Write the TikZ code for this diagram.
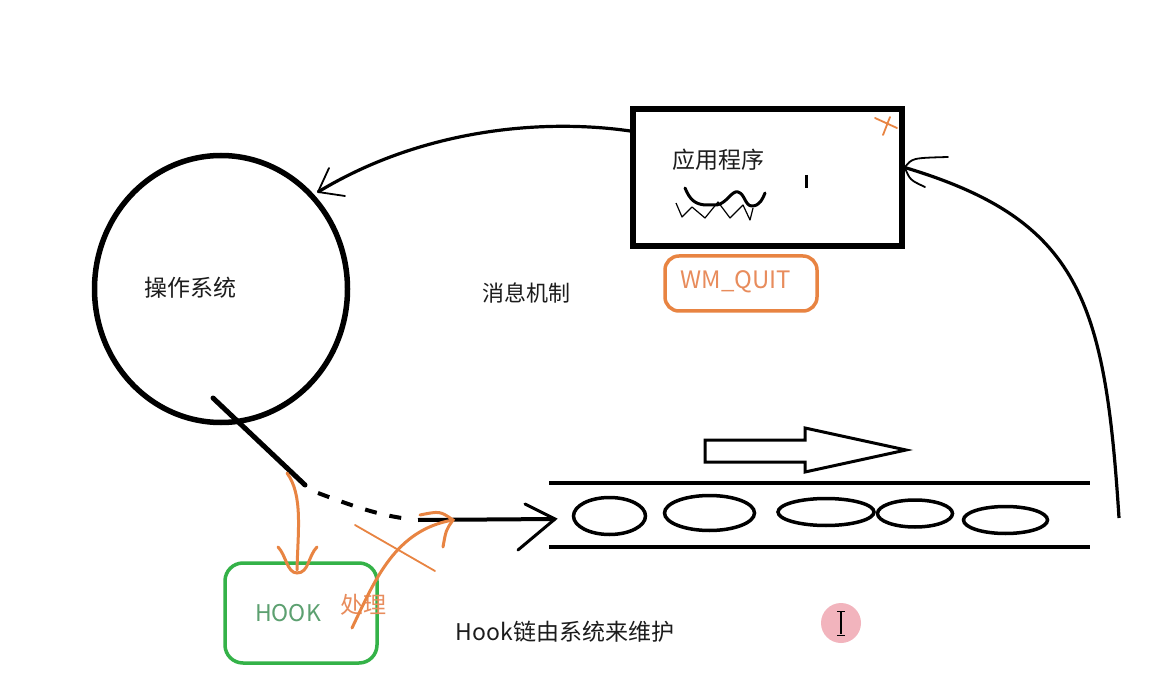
\documentclass[tikz,border=0pt]{standalone}
\usepackage{fontspec}
\newfontfamily\cjk{Noto Sans CJK SC}
\usetikzlibrary{shapes.geometric}
\definecolor{penorange}{RGB}{232,132,66}
\definecolor{pengreen}{RGB}{52,178,72}
\definecolor{hooktext}{RGB}{92,160,112}
\definecolor{txtorange}{RGB}{232,140,92}
\definecolor{txtblack}{RGB}{28,28,28}
\definecolor{cursorpink}{RGB}{240,168,178}
\tikzset{
  lbl/.style={font=\cjk\fontsize{23}{27}\selectfont, text=txtblack, inner sep=0pt},
  thickpen/.style={line width=5pt, black, line cap=round},
  midpen/.style={line width=3.5pt, black, line cap=round},
  thinpen/.style={line width=1.8pt, black, line cap=round},
  orangepen/.style={line width=3pt, penorange, line cap=round},
  orangethin/.style={line width=1.8pt, penorange, line cap=round},
  msg/.style={draw, black, line width=3.5pt},
}
\begin{document}
\begin{tikzpicture}[x=1pt,y=-1pt]
\useasboundingbox (0,0) rectangle (1172,692);
\fill[white] (0,0) rectangle (1172,692);

% operating system circle
\node[ellipse, draw, line width=5.5pt, minimum width=253pt, minimum height=267pt, inner sep=0pt] (os) at (221,289) {};
\node[lbl] (ostext) at (190,288) {操作系统};

% application box
\node[draw, line width=5.5pt, minimum width=269pt, minimum height=137pt, inner sep=0pt] (app) at (767.5,177.5) {};
\node[lbl] (apptext) at (718,160) {应用程序};
% squiggles inside app
\draw[line width=3pt, black, line cap=round, line join=round]
  (685,188) .. controls (690,200) and (695,204) .. (705,205)
  -- (717,205) .. controls (727,203) and (732,190) .. (738,192)
  .. controls (745,194) and (745,206) .. (752,206)
  .. controls (760,206) and (763,198) .. (765,193);
\draw[line width=1.2pt, black, line join=round]
  (676,203) -- (682,217) -- (692,207) -- (705,218) -- (718,202) -- (730,218) -- (743,205) -- (750,220) -- (753,208);
\draw[line width=3pt, black] (806,175) -- (806,188);
% orange cross on app corner
\draw[orangethin] (875,118) -- (897,128);
\draw[orangethin] (890,117) -- (883,135);

% WM_QUIT
\node[draw=penorange, line width=3.5pt, rounded corners=14pt, minimum width=152pt, minimum height=55pt, inner sep=0pt] (quit) at (741,283.5) {};
\node[lbl, text=txtorange, font=\cjk\fontsize{24}{28}\selectfont] (quittext) at (736,282) {WM\_QUIT};

% message mechanism label
\node[lbl, font=\cjk\fontsize{22}{26}\selectfont] (mech) at (526,293) {消息机制};

% app -> os arrow
\coordinate (appw) at ([yshift=46.5pt]app.west);
\coordinate (ostip) at (318,192);
\draw[line width=3.2pt, black] (appw) .. controls (540,118) and (420,130) .. (ostip);
\draw[thinpen] (ostip) -- (329,168);
\draw[thinpen] (ostip) -- (345,196);

% queue -> app arrow
\coordinate (qend) at (1119,518);
\coordinate (appe) at ([yshift=10pt]app.east);
\draw[line width=3.2pt, black] (qend) .. controls (1105,300) and (1080,220) .. (appe);
\draw[thinpen] (appe) .. controls (912,158) .. (948,157);
\draw[thinpen] (appe) .. controls (910,180) .. (925,187);

% message queue
\coordinate (qtl) at (549,483);
\coordinate (qtr) at (1090,483);
\coordinate (qbl) at (549,547);
\coordinate (qbr) at (1090,547);
\draw[line width=4pt] (qtl) -- (qtr);
\draw[line width=4pt] (qbl) -- (qbr);
\node[msg, ellipse, minimum width=72pt, minimum height=37pt, inner sep=0pt] (m1) at (609.5,516) {};
\node[msg, ellipse, minimum width=90pt, minimum height=35pt, inner sep=0pt] (m2) at (709.5,513) {};
\node[msg, ellipse, minimum width=96pt, minimum height=27pt, inner sep=0pt] (m3) at (826,512) {};
\node[msg, ellipse, minimum width=75pt, minimum height=27pt, inner sep=0pt] (m4) at (915,513.5) {};
\node[msg, ellipse, minimum width=84pt, minimum height=27pt, inner sep=0pt] (m5) at (1005.5,520) {};

% block arrow (direction)
\draw[line width=3pt, line join=miter] (705,440) -- (805,440) -- (805,428) -- (906,450) -- (805,472) -- (805,462) -- (705,462) -- cycle;

% os -> queue path
\coordinate (h0) at (213,398);
\coordinate (h1) at (305,485);
\coordinate (h2) at (318,493);
\coordinate (h3) at (410,519);
\coordinate (qin) at (555,519);
\draw[thickpen] (h0) -- (h1);
\draw[line width=4pt, dash pattern=on 12pt off 13pt] (h2) .. controls (350,505) and (380,516) .. (h3);
\draw[line width=4pt] (418,520) -- (qin);
\draw[line width=3pt, line cap=round] (525,504) -- (qin) -- (518,550);

% HOOK box
\node[draw=pengreen, line width=3.5pt, rounded corners=18pt, minimum width=152pt, minimum height=100pt, inner sep=0pt] (hook) at (301,613) {};
\node[lbl, text=hooktext] (hooktext) at (288,613) {HOOK};
\node[lbl, text=txtorange] (proc) at (363,605) {处理};

% orange: intercept down into HOOK
\coordinate (o0) at (287,473);
\coordinate (o1) at (297,570);
\draw[orangepen] (o0) .. controls (303,495) and (298,530) .. (o1);
\draw[orangepen] (278,547) .. controls (286,555) and (287,573) .. (297,573) .. controls (309,573) and (308,556) .. (317,547);
% orange: HOOK back to the chain
\coordinate (p0) at (352,628);
\coordinate (p1) at (453,520);
\draw[orangepen] (p0) .. controls (375,580) and (395,530) .. (p1);
\draw[orangepen] (420,515) .. controls (440,511) .. (p1) .. controls (446,530) .. (443,547);
\draw[orangethin] (355,525) -- (435,571);

% caption
\node[lbl, font=\cjk\fontsize{23}{27}\selectfont] (cap) at (565,632) {Hook链由系统来维护};

% cursor marker
\fill[cursorpink, opacity=0.85] (841,623) circle (20pt);
\draw[line width=1.3pt, black] (841,612) -- (841,634);
\draw[line width=1pt, black] (837,611) -- (845,611) (837,635) -- (845,635);
\end{tikzpicture}
\end{document}
